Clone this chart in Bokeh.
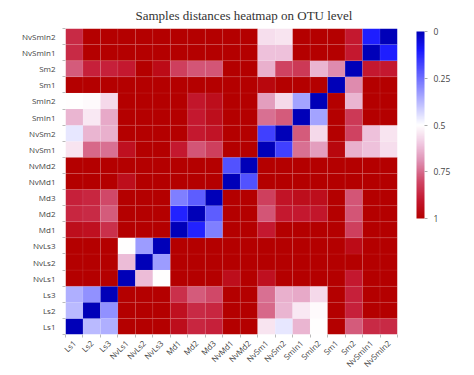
import numpy as np
from bokeh.plotting import figure
from bokeh.models import (LinearColorMapper, ColorBar, FixedTicker, Range1d,
                          ColumnDataSource, Title)
from bokeh.embed import file_html
from bokeh.resources import INLINE

samples = ["Ls1", "Ls2", "Ls3", "NvLs1", "NvLs2", "NvLs3", "Md1", "Md2", "Md3",
           "NvMd1", "NvMd2", "NvSm1", "NvSm2", "SmIn1", "SmIn2", "Sm1", "Sm2",
           "NvSmIn1", "NvSmIn2"]

# distance matrix, rows/cols in the order of `samples`
dist = [
    [0.00, 0.38, 0.36, 1.00, 1.00, 1.00, 0.94, 0.87, 0.88, 1.00, 1.00, 0.55, 0.46, 0.63, 0.50, 1.00, 0.77, 0.86, 0.86],
    [0.38, 0.00, 0.31, 1.00, 1.00, 1.00, 0.93, 0.86, 0.87, 1.00, 1.00, 0.75, 0.63, 0.54, 0.51, 1.00, 0.88, 1.00, 1.00],
    [0.36, 0.31, 0.00, 1.00, 1.00, 1.00, 0.85, 0.77, 0.80, 1.00, 1.00, 0.74, 0.64, 0.65, 0.57, 1.00, 0.88, 1.00, 1.00],
    [1.00, 1.00, 1.00, 0.00, 0.62, 0.50, 1.00, 1.00, 1.00, 0.94, 1.00, 0.93, 1.00, 1.00, 1.00, 1.00, 0.90, 1.00, 1.00],
    [1.00, 1.00, 1.00, 0.62, 0.00, 0.33, 1.00, 1.00, 1.00, 1.00, 1.00, 1.00, 1.00, 1.00, 1.00, 1.00, 1.00, 1.00, 1.00],
    [1.00, 1.00, 1.00, 0.50, 0.33, 0.00, 1.00, 1.00, 1.00, 1.00, 1.00, 1.00, 1.00, 1.00, 1.00, 1.00, 0.95, 1.00, 1.00],
    [0.94, 0.93, 0.85, 1.00, 1.00, 1.00, 0.00, 0.12, 0.28, 1.00, 1.00, 0.90, 1.00, 1.00, 1.00, 1.00, 0.82, 1.00, 1.00],
    [0.87, 0.86, 0.77, 1.00, 1.00, 1.00, 0.12, 0.00, 0.22, 1.00, 1.00, 0.78, 0.90, 0.90, 0.91, 1.00, 0.78, 1.00, 1.00],
    [0.88, 0.87, 0.80, 1.00, 1.00, 1.00, 0.28, 0.22, 0.00, 1.00, 1.00, 0.82, 0.92, 0.94, 0.94, 1.00, 0.78, 1.00, 1.00],
    [1.00, 1.00, 1.00, 0.94, 1.00, 1.00, 1.00, 1.00, 1.00, 0.00, 0.20, 1.00, 1.00, 1.00, 1.00, 1.00, 1.00, 1.00, 1.00],
    [1.00, 1.00, 1.00, 1.00, 1.00, 1.00, 1.00, 1.00, 1.00, 0.20, 0.00, 1.00, 1.00, 1.00, 1.00, 1.00, 1.00, 1.00, 1.00],
    [0.55, 0.75, 0.74, 0.93, 1.00, 1.00, 0.90, 0.78, 0.82, 1.00, 1.00, 0.00, 0.17, 0.74, 0.67, 0.97, 0.64, 0.61, 0.56],
    [0.46, 0.63, 0.64, 1.00, 1.00, 1.00, 1.00, 0.90, 0.92, 1.00, 1.00, 0.17, 0.00, 0.77, 0.57, 1.00, 0.81, 0.61, 0.55],
    [0.63, 0.54, 0.65, 1.00, 1.00, 1.00, 1.00, 0.90, 0.94, 1.00, 1.00, 0.74, 0.77, 0.00, 0.34, 1.00, 0.83, 1.00, 1.00],
    [0.50, 0.51, 0.57, 1.00, 1.00, 1.00, 1.00, 0.91, 0.94, 1.00, 1.00, 0.67, 0.57, 0.34, 0.00, 1.00, 0.63, 1.00, 1.00],
    [1.00, 1.00, 1.00, 1.00, 1.00, 1.00, 1.00, 1.00, 1.00, 1.00, 1.00, 0.97, 1.00, 1.00, 1.00, 0.00, 0.70, 1.00, 1.00],
    [0.77, 0.88, 0.88, 0.90, 1.00, 0.95, 0.82, 0.78, 0.78, 1.00, 1.00, 0.64, 0.81, 0.83, 0.63, 0.70, 0.00, 0.90, 0.90],
    [0.86, 1.00, 1.00, 1.00, 1.00, 1.00, 1.00, 1.00, 1.00, 1.00, 1.00, 0.61, 0.61, 1.00, 1.00, 1.00, 0.90, 0.00, 0.11],
    [0.86, 1.00, 1.00, 1.00, 1.00, 1.00, 1.00, 1.00, 1.00, 1.00, 1.00, 0.56, 0.55, 1.00, 1.00, 1.00, 0.90, 0.11, 0.00],
]

cbar_ticks = [0, 0.25, 0.5, 0.75, 1]
cbar_labels = ["1", "0.75", "0.5", "0.25", "0"]  # shown bottom->top (0 at the top)

# colour scale: dark blue (0) -> white (0.5) -> dark red (1)
stops = [0.0, 0.1, 0.5, 0.6, 0.7, 0.8, 0.9, 1.0]
stop_rgb = [(0, 0, 184), (24, 24, 255), (255, 255, 255), (240, 200, 225),
            (222, 140, 175), (208, 72, 104), (196, 24, 48), (180, 0, 0)]
t = np.linspace(0, 1, 256)
rgb = np.array(stop_rgb, dtype=float)
palette = ["#%02x%02x%02x" % tuple(int(round(np.interp(v, stops, rgb[:, k]))) for k in range(3)) for v in t]

n = len(samples)
xs, ys, vals = [], [], []
for i in range(n):
    for j in range(n):
        xs.append(j + 0.5)
        ys.append(i + 0.5)
        vals.append(dist[i][j])
src = ColumnDataSource(dict(x=xs, y=ys, v=vals))

mapper = LinearColorMapper(palette=palette, low=0, high=1)

p = figure(width=474, height=375, output_backend="svg", toolbar_location=None,
           x_range=Range1d(0, n), y_range=Range1d(0, n),
           min_border_left=65, min_border_right=77, min_border_top=2, min_border_bottom=36)
p.rect(x="x", y="y", width=1, height=1, source=src,
       fill_color={"field": "v", "transform": mapper},
       line_color="#ffffff", line_alpha=0.12, line_width=0.5)

p.title = Title(text="Samples distances heatmap on OTU level", align="left",
                text_font="Liberation Serif", text_font_size="13px",
                text_font_style="normal", text_color="#333333", offset=70, standoff=11)

centers = [i + 0.5 for i in range(n)]
bounds = [float(i) for i in range(n + 1)]
overrides = {c: s for c, s in zip(centers, samples)}
for ax in (p.xaxis[0], p.yaxis[0]):
    ax.ticker = FixedTicker(ticks=centers, minor_ticks=bounds)
    ax.major_label_overrides = overrides
    ax.major_tick_line_color = None
    ax.minor_tick_line_color = "#bbbbbb"
    ax.minor_tick_out = 3
    ax.minor_tick_in = 0
    ax.axis_line_color = None
    ax.major_label_text_font = "Open Sans"
    ax.major_label_text_font_size = "8px"
    ax.major_label_text_color = "#444444"
    ax.major_label_standoff = 4
p.xaxis.major_label_orientation = np.pi / 4
p.xaxis.major_label_standoff = 1

p.grid.visible = False
p.outline_line_color = None
p.background_fill_color = "#ffffff"

cb_mapper = LinearColorMapper(palette=palette[::-1], low=0, high=1)
cb = ColorBar(color_mapper=cb_mapper, width=8, height=187, location=(19, 116),
              ticker=FixedTicker(ticks=cbar_ticks),
              major_label_overrides=dict(zip(cbar_ticks, cbar_labels)),
              major_tick_in=0, major_tick_out=3, major_tick_line_color="#aaaaaa",
              label_standoff=6, major_label_text_font="Open Sans",
              major_label_text_font_size="8.5px", major_label_text_color="#444444",
              bar_line_color=None, border_line_color=None, background_fill_color=None,
              padding=0, margin=0)
p.add_layout(cb, "right")

open("out.html", "w").write(file_html(p, INLINE))
